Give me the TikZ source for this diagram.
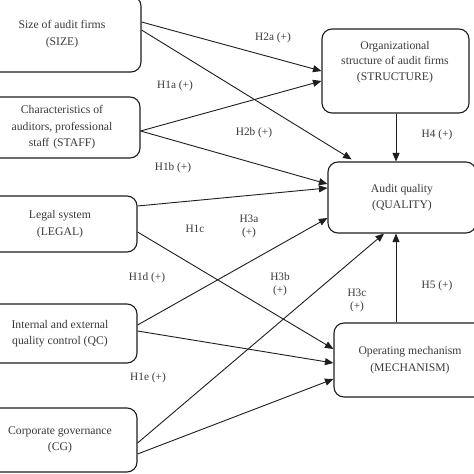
\documentclass[tikz,border=0pt]{standalone}
\usepackage{fontspec}
\setmainfont{Liberation Serif}
\usetikzlibrary{arrows.meta,calc}
\definecolor{linec}{HTML}{1E1E1E}
\definecolor{textc}{HTML}{3A3A3A}
\begin{document}
\begin{tikzpicture}[x=1pt,y=-1pt,
  box/.style={draw=linec, line width=1.1pt, rounded corners=10pt, inner sep=0pt,
    align=center, font=\fontsize{11.7}{16.5}\selectfont, text=textc},
  boxtext/.style={inner sep=0pt, align=center, font=\fontsize{11.7}{15.5}\selectfont, text=textc},
  lab/.style={inner sep=0pt, align=center, font=\fontsize{11.3}{13}\selectfont, text=textc},
  arr/.style={draw=linec, line width=0.9pt, -{Triangle[length=8.5pt,width=7pt]}}]
\useasboundingbox (0,0) rectangle (474,474);
\clip (0,0) rectangle (474,474);
\fill[white] (0,0) rectangle (474,474);

% left boxes
\node[box, minimum width=158, minimum height=76] (SIZE) at (62,34) {Size of audit firms\\(SIZE)};
\node[box, minimum width=156, minimum height=61] (STAFF) at (62,127.5) {Characteristics of\\auditors, professional\\staff\,\,(STAFF)};
\node[box, minimum width=154, minimum height=56] (LEGAL) at (60,224) {Legal system\\(LEGAL)};
\node[box, minimum width=154, minimum height=59] (QC) at (60,333.5) {Internal and external\\quality control (QC)};
\node[box, minimum width=154, minimum height=64] (CG) at (60,440) {Corporate governance\\(CG)};

% right boxes
\node[box, minimum width=147, minimum height=84] (STRUCTURE) at (395.5,71) {};
\node[boxtext] (STRUCTUREtext) at (395,62) {Organizational\\structure of audit firms\\(STRUCTURE)};
\node[box, minimum width=148, minimum height=71] (QUALITY) at (402,197.5) {Audit quality\\(QUALITY)};
\node[box, minimum width=152, minimum height=74] (MECHANISM) at (410,360) {Operating mechanism\\(MECHANISM)};

% connectors
\draw[arr] (SIZE.east |- 0,22) -- (STRUCTURE.west |- 0,71);
\draw[arr, shorten >=4pt] (SIZE.east |- 0,30) -- (QUALITY.north -| 355,0);
\draw[arr] (STAFF.east |- 0,131) -- (STRUCTURE.west |- 0,81);
\draw[arr] (STAFF.east |- 0,131) -- (QUALITY.west |- 0,184);
\draw[arr] (LEGAL.east |- 0,206) -- (QUALITY.west |- 0,188);
\draw[arr] (LEGAL.east |- 0,232) -- (MECHANISM.west |- 0,349);
\draw[arr] (QC.east |- 0,325) -- (QUALITY.west |- 0,218);
\draw[arr] (QC.east |- 0,331) -- (MECHANISM.west |- 0,363);
\draw[arr] (CG.east |- 0,443) -- (QUALITY.south -| 384,0);
\draw[arr] (CG.east |- 0,454) -- (MECHANISM.west |- 0,379);
\draw[arr] (STRUCTURE.south -| 396,0) -- (QUALITY.north -| 396,0);
\draw[arr] (MECHANISM.north -| 396,0) -- (QUALITY.south -| 396,0);

% labels
\node[lab] (H2a) at (273,38) {H2a (+)};
\node[lab] (H1a) at (175,86) {H1a (+)};
\node[lab] (H2b) at (254,133) {H2b (+)};
\node[lab] (H4) at (437,135) {H4 (+)};
\node[lab] (H1b) at (173,168) {H1b (+)};
\node[lab] (H1c) at (195,229) {H1c};
\node[lab] (H3a) at (249,226) {H3a\\(+)};
\node[lab] (H1d) at (147,278) {H1d (+)};
\node[lab] (H3b) at (280,284.5) {H3b\\(+)};
\node[lab] (H3c) at (357,300) {H3c\\(+)};
\node[lab] (H5) at (437,286) {H5 (+)};
\node[lab] (H1e) at (148,378) {H1e (+)};
\end{tikzpicture}
\end{document}
